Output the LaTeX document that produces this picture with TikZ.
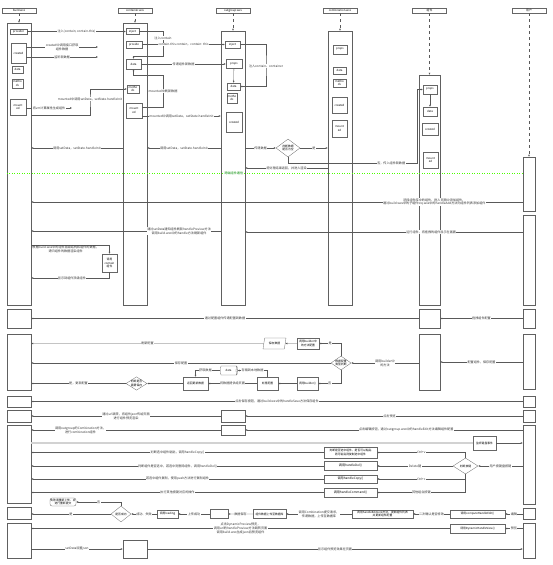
\documentclass[tikz,border=0pt]{standalone}
\usepackage{fontspec}
\setmainfont{Noto Sans CJK SC}
\usetikzlibrary{
    arrows.meta,
    shapes.geometric,
    positioning
}
\newcommand\msgfont{\fontsize{3.1}{3.7}\selectfont}
\newcommand\partfont{\fontsize{2.8}{3.3}\selectfont}

\tikzset{
    lane/.style={draw=gray!80!black, line width=0.3pt, minimum width=34pt, minimum height=5pt, inner sep=0pt, font=\partfont},
    act/.style={draw=gray!75!black, line width=0.45pt, inner sep=0pt, minimum width=24pt},
    part/.style={draw=gray!80!black, line width=0.3pt, inner sep=0pt, font=\partfont, align=center},
    dec/.style={diamond, draw=gray!80!black, line width=0.3pt, inner sep=0pt, aspect=1.5, font=\partfont, align=center},
    cyl/.style={cylinder, draw=gray!80!black, line width=0.3pt, inner sep=0pt, shape aspect=0.6, font=\partfont},
    life/.style={->, draw=gray!70!black, line width=0.3pt, dashed},
    msg/.style={->, draw=gray!70!black, line width=0.3pt},
    lbl/.style={fill=white, inner sep=0.4pt, font=\msgfont, align=center, text=black!80}
}

\begin{document}
\begin{tikzpicture}[x=1pt, y=-1pt, >={Latex[length=2pt,width=1.8pt]}]
\useasboundingbox (0,0) rectangle (553,565);

% lanes
\node[lane] (hb) at (19,10.5) {build.wxs};
\node[lane] (hc) at (135,10.5) {container.wxs};
\node[lane] (ho) at (233,10.5) {outgroup.wxs};
\node[lane] (hm) at (340,10.5) {combination.wxs};
\node[lane] (hk) at (429.5,10.5) {组件};
\node[lane] (hu) at (529,10.5) {用户};

\node[act, minimum height=282] (bA) at (19,164) {};
\node[act, minimum height=282] (cA) at (135,164) {};
\node[act, minimum height=274] (oA) at (233,168) {};
\node[act, minimum height=274] (mA) at (340,168) {};
\node[act, minimum width=21, minimum height=230] (kA) at (429.5,190) {};
\node[act, minimum width=12, minimum height=54] (uA1) at (529,184) {};
\node[act, minimum width=12, minimum height=90] (uA2) at (529,260) {};

\draw[life] (hb) -- (bA);
\draw[life] (hc) -- (cA);
\draw[life] (ho) -- (oA);
\draw[life] (hm) -- (mA);
\draw[life] (hk) -- (kA);
\draw[life] (hu) -- (uA1);

% build.wxs
\node[part, minimum width=17, minimum height=5] (bprov) at (18.5,31.5) {provider};
\node[part, minimum width=15, minimum height=20] (bcre) at (18.5,53) {created};
\node[part, minimum width=11, minimum height=7] (bdat) at (17.5,69.5) {data};
\node[part, minimum width=11, minimum height=9] (bmet) at (17.5,83.5) {metho\\ds};
\node[part, minimum width=16, minimum height=16] (bmnt) at (18,107) {mount\\ed};

% container.wxs
\node[part, minimum width=13, minimum height=6] (cinj) at (132.5,31.5) {inject};
\node[part, minimum width=16, minimum height=7] (cprov) at (134,44.5) {provide};
\node[part, minimum width=15, minimum height=10] (cdat) at (133.5,64) {data};
\node[part, minimum width=12, minimum height=8] (cmet) at (133,89) {metho\\ds};
\node[part, minimum width=16, minimum height=15] (cmnt) at (134,110.5) {mount\\ed};

% outgroup.wxs
\node[part, minimum width=15, minimum height=7] (oinj) at (232.5,44.5) {inject};
\node[part, minimum width=16, minimum height=9] (oprop) at (234,64) {props};
\node[part, minimum width=13, minimum height=7] (odat) at (233.5,86.5) {data};
\node[part, minimum width=10, minimum height=10] (omet) at (232,98) {metho\\ds};
\node[part, minimum width=16, minimum height=20] (ocre) at (234,122) {created};

% combination.wxs
\node[part, minimum width=14, minimum height=9] (mprop) at (340,49.5) {props};
\node[part, minimum width=13, minimum height=7] (mdat) at (339.5,70.5) {data};
\node[part, minimum width=13, minimum height=8] (mmet) at (339.5,83) {metho\\ds};
\node[part, minimum width=15, minimum height=16] (mcre) at (339.5,105) {created};
\node[part, minimum width=15, minimum height=17] (mmnt) at (339.5,128.5) {mount\\ed};

% 组件
\node[part, minimum width=14, minimum height=9] (kprop) at (430,89.5) {props};
\node[part, minimum width=14, minimum height=9] (kdat) at (430,111.5) {data};
\node[part, minimum width=16, minimum height=12] (kcre) at (430,129) {created};
\node[part, minimum width=15, minimum height=16] (kmnt) at (430.5,160) {mount\\ed};

\coordinate (bq1) at (98,47);
\coordinate (bq2) at (98,57);
\coordinate (bq3) at (72,108);
\draw[msg] (bprov.east) -- (cinj.west) node[lbl, midway] {注入(contain, contain-this)};
\draw[msg] (bcre.east |- bq1) -- (bq1) node[lbl, midway] {created中调用接口获取\\组件数据};
\draw[msg] (bcre.east |- bq2) -- (bq2) node[lbl, midway] {监听新数据};
\draw[msg] (bmnt.east |- bq3) -- (bq3) node[lbl, midway] {将vm计算属性生成组件};
\draw[msg] (bA.east |- 0,115) -| (90,99) node[lbl] {mounted中调用setData，setState.handleInit} |- (cmet.west);

\draw[msg] (cinj.east) -| node[lbl, pos=0.63] {注入contain} (163,56) -| (cdat.north);
\draw[msg] ([yshift=3.5pt]cmnt.east) -| node[lbl, pos=0.75] {mounted中刷新数据} (163,75) -| (cdat.south);
\draw[msg] (cprov.east) -- (oinj.west) node[lbl, midway] {contain-this.contain，contain: this};
\draw[msg] (cdat.east) -- (oprop.west) node[lbl, midway] {传递组件新数据};
\draw[msg] ([yshift=-5.5pt]cmnt.east) -- (oA.west |- 0,116) node[lbl, midway] {mounted中调用setData，setState.handleInit};
\draw[msg] (oinj.east) -| (266,66) node[lbl] {注入contain、container} |- (odat.east);
\draw[msg] (oprop) -- (odat);
\draw[msg] (kprop) -- (kdat);

\node[dec, minimum width=24, minimum height=18] (dnull) at (288,148) {判断数据\\是否为空};
\draw[msg] (oA.west |- 0,148) -- (cA.east |- 0,148) node[lbl, midway] {调用setData，setState.handleInit};
\draw[msg] (cA.west |- 0,148) -- (bA.east |- 0,148) node[lbl, midway] {调用setData，setState.handleInit};
\draw[msg] (oA.east |- dnull) -- (dnull.west) node[lbl, midway] {传递数据};
\draw[msg] (dnull.east) -- (mA.west |- dnull) node[lbl, midway] {是};
\draw[msg] (dnull.south) |- node[lbl, pos=0.9] {否，传入组件新数据} (417,163) |- (kprop.west);
\draw[msg] (mA.west |- 0,168) -- (oA.east |- 0,168) node[lbl, midway] {将处理结果返回，并进入渲染};

\draw[green!70!yellow, dotted, line width=0.5pt] (bA.west |- 0,173) -- node[pos=0.44, fill=white, inner sep=0.3pt, font=\msgfont, text=green!55!black] {跨端组件通信} (uA1.west |- 0,173);

\draw[msg] (uA1.west |- 0,202) -- (bA.east |- 0,202) node[lbl, pos=0.18] {选择组件库中的组件，拖入页面中添加组件，\\通过build.wxs中的子组件tcq.wxs中的handleAdd方法向组件列表添加组件};
\draw[msg] (oA.west |- 0,231) -- (bA.east |- 0,231) node[lbl, pos=0.22] {通过setData通知组件刷新handlePreview方法\\调用build.wxs中的handle方法刷新组件};
\draw[msg] (uA2.west |- 0,232) -- (oA.east |- 0,232) node[lbl, pos=0.33] {运行组件，将拖拽的组件显示在画面};

\node[part, minimum width=15, minimum height=18] (brend) at (109.5,263) {调用\\contain\\组件};
\draw[msg] (bA.east |- 0,245) -| node[below, pos=0.22, font=\msgfont, align=center, inner sep=1pt, text=black!80] {根据build.wxs中的组件层级结构和组件的数据，\\递归组件的数据渲染组件} (brend.north);
\draw[msg] (brend.south) |- node[lbl, pos=0.74] {显示到组件顶级组件} (bA.east |- 0,278);

% configure a component
\node[act, minimum height=19] (bB) at (19,318.5) {};
\node[act, minimum width=21, minimum height=19] (kB) at (429.5,318.5) {};
\node[act, minimum width=12, minimum height=19] (uB) at (529,318.5) {};
\draw[msg] (uB.west) -- (kB.east) node[lbl, midway] {拖拽组件配置};
\draw[msg] (kB.west) -- (bB.east) node[lbl, midway] {通过配置组件传递配置到数据};

\node[act, minimum height=56] (bC) at (19,362) {};
\node[act, minimum width=21, minimum height=56] (kC) at (429.5,362) {};
\node[act, minimum width=12, minimum height=55] (uC) at (529,361.5) {};
\draw[msg] (uC.west |- 0,362) -- (kC.east |- 0,362) node[lbl, midway] {配置组件，保存配置};

\node[dec, minimum width=18, minimum height=14] (dcfg) at (341,363) {根据配置\\类型判断};
\node[part, minimum width=22, minimum height=11] (cfgm) at (308,343.5) {调用builder中\\的方法配置};
\node[trapezium, trapezium left angle=70, trapezium right angle=110, trapezium stretches=true, draw=gray!80!black, line width=0.3pt, inner sep=0pt, font=\partfont, minimum width=23, minimum height=11] (sdat) at (274.5,343.5) {保存数据};
\node[part, minimum width=21, minimum height=13] (cfgb) at (307.5,383.5) {调用builder()};
\node[part, minimum width=21, minimum height=13] (cfgs) at (267.5,383.5) {处理配置};
\node[cyl, minimum width=9, minimum height=17] (ddat) at (228.5,370.5) {data};
\node[part, minimum width=25, minimum height=13] (rdat) at (195.5,383.5) {返回更新数据};
\node[dec, minimum width=21, minimum height=13] (dsav) at (136.5,383.5) {判断是否\\需要保存};

\draw[msg] (kC.west |- dcfg) -- (dcfg.east) node[lbl, midway] {调用builder中\\的方法};
\draw[msg] (dcfg.west) -- (bC.east |- dcfg) node[lbl, midway] {保存配置};
\draw[msg] (dcfg.north) |- node[lbl, pos=0.75] {是} (cfgm.east);
\draw[msg] (cfgm.west) -- (sdat.east);
\draw[msg] (sdat.west) -- (bC.east |- sdat) node[lbl, midway] {刷新配置};
\draw[msg] (dcfg.south) |- node[lbl, pos=0.75] {否} (cfgb.east);
\draw[msg] (cfgb.west) -- (cfgs.east);
\draw[msg] (cfgs.west) -- (rdat.east) node[lbl, midway] {将数据提供给页面};
\draw[msg] (cfgs.north) |- node[lbl, pos=0.75] {存储到本地数据} (ddat.east);
\draw[msg] (ddat.west) -| node[lbl, pos=0.3] {获取数据} (rdat.north);
\draw[msg] (rdat.west) -- (dsav.east);
\draw[msg] (dsav.west) -- (bC.east |- dsav) node[lbl, midway] {是，更新配置};

% save and preview
\node[act, minimum height=11] (bD) at (19,401.5) {};
\node[act, minimum width=12, minimum height=11] (uD) at (529,401.5) {};
\draw[msg] (uD.west) -- (bD.east) node[lbl, midway] {点击保存按钮，通过build.wxs中的handleSave方法保存组件};

\node[act, minimum height=12] (bE) at (19,416) {};
\node[act, minimum height=12] (oE) at (233,416) {};
\node[act, minimum width=12, minimum height=12] (uE) at (529,416) {};
\draw[msg] (uE.west) -- (oE.east) node[lbl, pos=0.48] {点击预览};
\draw[msg] (oE.west) -- (bE.east) node[lbl, midway] {通过url跳转，将组件json传给页面\\进行组件预览渲染};

% edit with keyboard
\node[act, minimum height=78] (bF) at (19,464) {};
\node[act, minimum height=10] (oF) at (233,430) {};
\node[act, minimum width=12, minimum height=79] (uF) at (529,464.5) {};
\draw[msg] (uF.west |- oF) -- (oF.east) node[lbl, pos=0.42] {点击编辑按钮，通过outgroup.wxs中的handleEdit方法编辑组件配置};
\draw[msg] (oF.west) -- (bF.east |- oF) node[lbl, pos=0.74] {调用outgroup的Combination方法，\\进行combination组件};

\node[part, minimum width=23, minimum height=14] (keyl) at (484.5,443) {监听键盘事件};
\draw[gray!35, line width=1.6pt] (bF.east |- keyl) -- (keyl.west);
\draw[msg] (keyl.east) -- (uF.west |- keyl);
\node[dec, minimum width=25, minimum height=16] (dkey) at (465.5,466) {判断按键};
\draw[msg] (uF.west |- dkey) -- (dkey.east) node[lbl, midway] {用户按键盘按键};

\node[part, minimum width=53, minimum height=11] (kpas) at (350.5,452.5) {判断是否选中组件，是否可以粘贴\\若可粘贴则复制选中组件};
\node[part, minimum width=53, minimum height=9, font=\msgfont] (kdel) at (350.5,466) {调用handleDel()};
\node[part, minimum width=53, minimum height=8, font=\msgfont] (kcpy) at (350.5,479) {调用handleCopy()};
\node[part, minimum width=53, minimum height=9, font=\msgfont] (kcmd) at (350.5,492.5) {调用handleCommand()};
\draw[msg] (dkey.north) |- node[lbl, pos=0.75] {Ctrl+v} (kpas.east);
\draw[msg] (dkey.west) -- (kdel.east) node[lbl, midway] {Delete键};
\draw[msg] (dkey.south) |- node[lbl, pos=0.75] {Ctrl+c} (kcpy.east);
\draw[msg] (dkey.south) |- node[lbl, pos=0.75] {其他组合按键} (kcmd.east);
\draw[msg] (kpas.west) -- (bF.east |- kpas) node[lbl, midway] {判断选中组件粘贴，调用handleCopy()};
\draw[msg] (kdel.west) -- (bF.east |- kdel) node[lbl, midway] {判断组件是否选中，若选中则删除组件，调用handleDel()};
\draw[msg] (kcpy.west) -- (bF.east |- kcpy) node[lbl, midway] {若选中组件复制，使用push方法进行复制组件};
\draw[msg] (kcmd.west) -- (bF.east |- kcmd) node[lbl, midway] {执行其他按键对应的操作};

% edit and upload
\node[act, minimum height=12] (bG) at (19,513) {};
\node[act, minimum width=12, minimum height=11] (uG) at (529,513.5) {};
\node[part, minimum width=55, minimum height=8] (ed1) at (477.5,514) {调用computeHandleEdit()};
\node[part, minimum width=61, minimum height=8] (ed2) at (382.5,514) {调用handleEditLink方法，更新组件列表\\并更新组件配置};
\node[part, minimum width=33, minimum height=9] (ed3) at (269.5,514) {组件数据上传至数据库};
\node[cyl, minimum width=9, minimum height=18] (ed4) at (219,514) {};
\node[part, minimum width=21, minimum height=8] (ed5) at (167.5,514) {调用loading};
\node[dec, minimum width=20, minimum height=16] (dok) at (121,514) {是否成功};
\node[part, rounded corners=2pt, minimum width=26, minimum height=8] (efail) at (63,502) {失败请重新上传，并\\进行重新提交};
\draw[msg] (uG.west |- ed1) -- (ed1.east) node[lbl, midway] {编辑};
\draw[msg] (ed1.west) -- (ed2.east) node[lbl, midway] {二次确认是否修改};
\draw[msg] (ed2.west) -- (ed3.east) node[lbl, midway] {调用Combination提交请求，\\传递数据，上传至数据库};
\draw[msg] (ed3.west) -- (ed4.east) node[lbl, midway] {数据保存};
\draw[msg] (ed4.west) -- (ed5.east) node[lbl, midway] {上传成功};
\draw[msg] (ed5.west) -- (dok.east) node[lbl, midway] {成功、失败};
\draw[msg] (dok.west) -- (bG.east |- dok) node[lbl, midway] {是};
\draw[msg] (dok.north) |- node[lbl, pos=0.75] {否} (efail.east);

% preview
\node[act, minimum height=35] (bH) at (19,540.5) {};
\node[act, minimum height=18] (cH) at (135,549) {};
\node[act, minimum width=12, minimum height=35] (uH) at (529,540.5) {};
\node[part, minimum width=55, minimum height=9] (pvw) at (477.5,528.5) {调用DynamicHandleView()};
\draw[msg] (uH.west |- pvw) -- (pvw.east) node[lbl, midway] {预览};
\draw[msg] (pvw.west) -- (bH.east |- pvw) node[lbl, midway] {点击DynamicPreview预览，\\调用url的handlePreview方法跳转页面\\调用build.wxs生成json后预览组件};
\draw[msg] (bH.east |- cH) -- (cH.west) node[lbl, midway] {setData设置json};
\draw[msg] (cH.east) -- (uH.west |- cH) node[lbl, midway] {显示组件预览效果在页面};
\end{tikzpicture}
\end{document}
